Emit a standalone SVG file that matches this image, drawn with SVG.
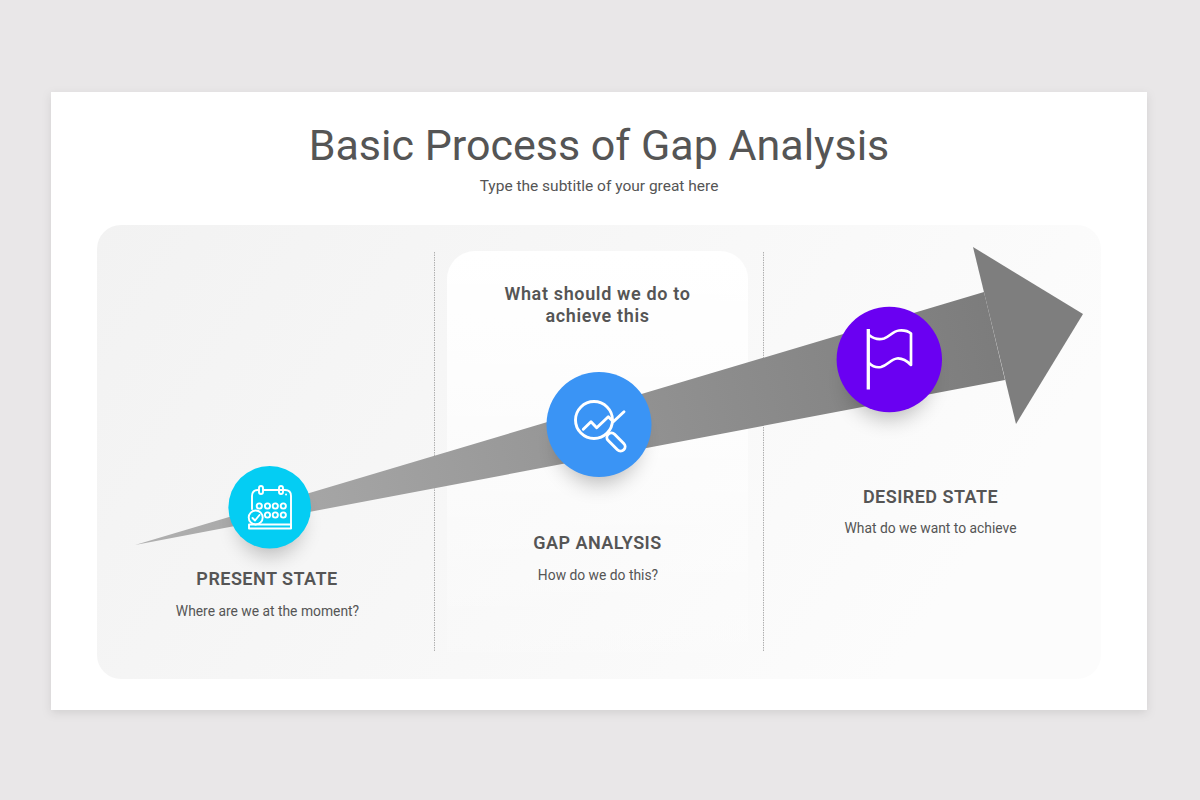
<svg xmlns="http://www.w3.org/2000/svg" width="1200" height="800" viewBox="0 0 1200 800">
<style>
text{font-family:Roboto,"Liberation Sans",sans-serif;fill:#555;text-anchor:middle}
.h{font-size:18px;font-weight:600;letter-spacing:.47px}
.s{font-size:13.850px}
.i{fill:none;stroke:#fff;stroke-linecap:round;stroke-linejoin:round}
.d{stroke:#b0b0b0;stroke-width:1;stroke-dasharray:1.5 1}
.sd{fill:#000;opacity:.28;filter:url(#bl)}
</style>
<defs>
<linearGradient id="p" x1="0" y1="0" x2="1" y2=".3"><stop offset="0" stop-color="#f2f2f2"/><stop offset="1" stop-color="#fcfcfc"/></linearGradient>
<linearGradient id="c" x1="0" y1="0" x2="0" y2="1"><stop offset="0" stop-color="#fff"/><stop offset=".3" stop-color="#fff" stop-opacity=".8"/><stop offset="1" stop-color="#fff" stop-opacity=".1"/></linearGradient>
<linearGradient id="a" gradientUnits="userSpaceOnUse" x1="135" y1="545" x2="1000" y2="330"><stop offset="0" stop-color="#b0b0b0"/><stop offset="1" stop-color="#7c7c7c"/></linearGradient>
<filter id="bl" x="-80%" y="-80%" width="260%" height="260%"><feGaussianBlur stdDeviation="11"/></filter>
<filter id="cs" x="-5%" y="-5%" width="110%" height="110%"><feDropShadow dx="0" dy="3" stdDeviation="5" flood-color="#000" flood-opacity=".1"/></filter>
</defs>
<rect width="1200" height="800" fill="#e9e7e8"/>
<rect x="51" y="92" width="1096" height="618" fill="#fff" filter="url(#cs)"/>
<text x="599" y="160" font-size="43">Basic Process of Gap Analysis</text>
<text x="599" y="191" font-size="15.500">Type the subtitle of your great here</text>
<rect x="97" y="225" width="1004" height="454" rx="24" fill="url(#p)"/>
<path d="M447 652V279a28 28 0 0 1 28-28H720a28 28 0 0 1 28 28V652Z" fill="url(#c)"/>
<g id="connectors">
<line class="d" x1="434.500" y1="252" x2="434.500" y2="652"/>
<line class="d" x1="763.500" y1="252" x2="763.500" y2="652"/>
<path id="arrow-shaft" d="M135 545L984 292L1005 380Z" fill="url(#a)"/>
<path id="arrow-head" d="M973 247L1083 314L1016 424Z" fill="#7e7e7e"/>
</g>
<g id="node-present">
<circle class="sd" cx="270" cy="524" r="30"/>
<circle cx="269.700" cy="507.300" r="41.300" fill="#04cdf3"/>
<g class="i" stroke-width="1.900">
<path d="M264 490H285Q291 490 291 496V528"/>
<path d="M252 509V496Q252 490 258 490"/>
<path d="M286 494.500h.1"/>
<rect x="259" y="486" width="4" height="8" rx="2"/>
<rect x="279" y="486" width="4" height="8" rx="2"/>
<circle cx="259.300" cy="506" r="2.600"/><circle cx="267.500" cy="506" r="2.600"/><circle cx="275.300" cy="506" r="2.600"/><circle cx="283.300" cy="506" r="2.600"/>
<circle cx="267.500" cy="515" r="2.600"/><circle cx="275.300" cy="515" r="2.600"/><circle cx="283.300" cy="515" r="2.600"/>
<circle cx="255.700" cy="517.500" r="7"/>
<path d="M252.500 518L255 520.500L259.500 515"/>
<path d="M249 524.500H291V528.500H249Z"/>
</g>
</g>
<g id="node-gap">
<circle class="sd" cx="599" cy="444" r="39"/>
<circle cx="599" cy="424.500" r="52.500" fill="#3a94f5"/>
<g class="i" stroke-width="2.900">
<circle cx="594" cy="420" r="18.500"/>
<path d="M583.300 429.300L591 421.700L596.700 427.700L608.300 416.700L613.300 421.700L624 411.700"/>
<rect x="605" y="437.500" width="22" height="9" rx="4.500" transform="rotate(45 616 442)"/>
</g>
</g>
<g id="node-desired">
<circle class="sd" cx="889" cy="379" r="39"/>
<circle cx="889.300" cy="359.500" r="52.700" fill="#6a00f2"/>
<g class="i" stroke-width="2.700" style="stroke-linecap:butt">
<path d="M868.300 329V389.500" stroke-width="3.300"/>
<path d="M869 335C874 339 879 340 884 338.500C890 336.500 893 331 899 330.500C904 330 908 331 911 333.500V365C907 361 903 358 897 358.500C891 359 888 365 881 367C876 368 872 366 869 363"/>
</g>
</g>
<g id="label-what"><text class="h" x="597.500" y="300" style="letter-spacing:.65px">What should we do to</text><text class="h" x="597.500" y="322" style="letter-spacing:.65px">achieve this</text></g>
<text class="h" x="267" y="585">PRESENT STATE</text>
<text class="s" x="267.500" y="616">Where are we at the moment?</text>
<text class="h" x="597.500" y="549">GAP ANALYSIS</text>
<text class="s" x="598" y="580">How do we do this?</text>
<text class="h" x="930.500" y="503">DESIRED STATE</text>
<text class="s" x="930.500" y="533">What do we want to achieve</text>
</svg>
